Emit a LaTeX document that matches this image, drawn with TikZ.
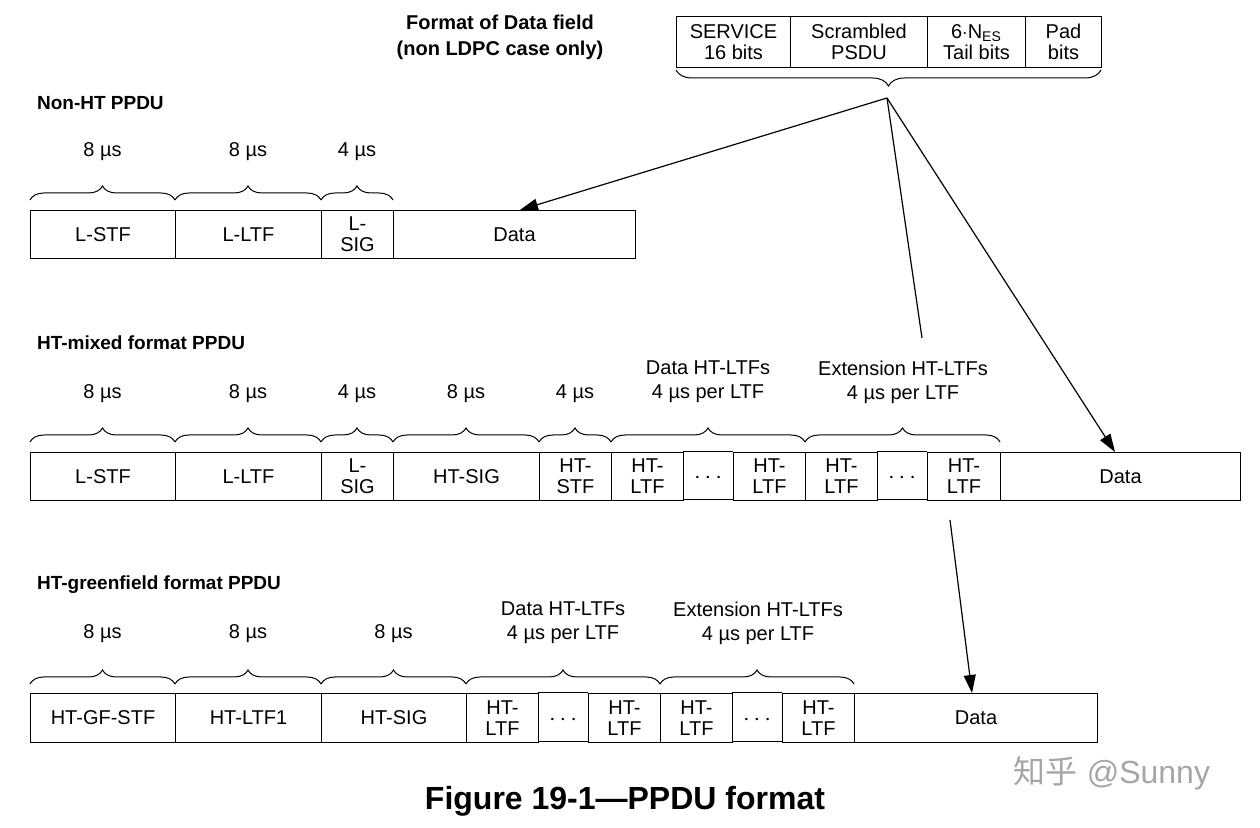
\documentclass[tikz,border=0pt]{standalone}
\usepackage{fontspec}
\setmainfont{Liberation Sans}
\newfontfamily\cjk{Noto Sans CJK SC}
\usetikzlibrary{decorations.pathreplacing,arrows.meta}
\begin{document}
\begin{tikzpicture}[x=0.5pt,y=-0.5pt,
 fld/.style={draw,line width=0.5pt,inner sep=0pt,align=center,font=\fontsize{10}{10.5}\selectfont},
 br/.style={decorate,decoration={brace,amplitude=7pt},line width=0.5pt},
 lab/.style={font=\fontsize{10}{12}\selectfont,align=center},
 dots/.style={font=\bfseries\fontsize{12}{12}\selectfont},
 ttl/.style={font=\bfseries\fontsize{9.5}{11}\selectfont,anchor=west},
 arr/.style={-{Triangle[length=9pt,width=6pt]},line width=0.6pt}]
\useasboundingbox (0,0) rectangle (1260,828);
% top data-field format
\foreach \a/\b/\t [count=\i] in {676/790/{SERVICE\\16 bits},790/927/{Scrambled\\PSDU},927/1025/{6$\cdot$N\textsubscript{ES}\\Tail bits},1025/1101/{Pad\\bits}}
 {\node[fld,minimum width=(\b-\a)*0.5pt,minimum height=25.5pt,anchor=north west] (t\i) at (\a,16) {\t};}
\node[font=\bfseries\fontsize{10}{13}\selectfont,align=center] (ftitle) at (500,37) {Format of Data field\\(non LDPC case only)};
\draw[br,decoration={mirror,amplitude=8pt}] (676,70) -- (1101,70);
\coordinate (tip) at (887,98);
% Non-HT
\node[ttl] (l1) at (30,103) {Non-HT PPDU};
\foreach \a/\b/\t [count=\i] in {30/175/L-STF,175/321/L-LTF,321/393/{L-\\SIG},393/635/Data}
 {\node[fld,minimum width=(\b-\a)*0.5pt,minimum height=24pt,anchor=north west] (a\i) at (\a,210) {\t};}
\foreach \a/\b/\t in {30/175/8 µs,175/321/8 µs,321/393/4 µs}
 {\draw[br] (\a,200) -- (\b,200); \node[lab] at ({(\a+\b)/2},152) {\t};}
% HT-mixed
\node[ttl] (l2) at (30,343) {HT-mixed format PPDU};
\foreach \a/\b/\t [count=\i] in {30/175/L-STF,175/321/L-LTF,321/393/{L-\\SIG},393/539/HT-SIG,539/611/{HT-\\STF},611/683/{HT-\\LTF},733/805/{HT-\\LTF},805/877/{HT-\\LTF},927/1000/{HT-\\LTF},1000/1240/Data}
 {\node[fld,minimum width=(\b-\a)*0.5pt,minimum height=24pt,anchor=north west] (b\i) at (\a,452) {\t};}
\draw[line width=0.5pt] (683,452) -- (733,452) (683,500) -- (733,500) (877,452) -- (927,452) (877,500) -- (927,500);
\node[dots] (bd1) at (708,478) {$\cdots$}; \node[dots] (bd2) at (902,478) {$\cdots$};
\foreach \a/\b/\t in {30/175/8 µs,175/321/8 µs,321/393/4 µs,393/539/8 µs,539/611/4 µs}
 {\draw[br] (\a,442) -- (\b,442); \node[lab] at ({(\a+\b)/2},394) {\t};}
\draw[br] (611,442) -- (805,442); \node[lab] at (708,382) {Data HT-LTFs\\4 µs per LTF};
\draw[br] (805,442) -- (1000,442); \node[lab] at (903,382) {Extension HT-LTFs\\4 µs per LTF};
% HT-GF
\node[ttl] (l3) at (30,585) {HT-greenfield format PPDU};
\foreach \a/\b/\t [count=\i] in {30/175/HT-GF-STF,175/321/HT-LTF1,321/466/HT-SIG,466/538/{HT-\\LTF},588/660/{HT-\\LTF},660/732/{HT-\\LTF},782/854/{HT-\\LTF},854/1097/Data}
 {\node[fld,minimum width=(\b-\a)*0.5pt,minimum height=24.5pt,anchor=north west] (c\i) at (\a,693) {\t};}
\draw[line width=0.5pt] (538,693) -- (588,693) (538,742) -- (588,742) (732,693) -- (782,693) (732,742) -- (782,742);
\node[dots] (cd1) at (563,720) {$\cdots$}; \node[dots] (cd2) at (757,720) {$\cdots$};
\foreach \a/\b/\t in {30/175/8 µs,175/321/8 µs,321/466/8 µs}
 {\draw[br] (\a,684) -- (\b,684); \node[lab] at ({(\a+\b)/2},634) {\t};}
\draw[br] (466,684) -- (660,684); \node[lab] at (563,623) {Data HT-LTFs\\4 µs per LTF};
\draw[br] (660,684) -- (854,684); \node[lab] at (758,623) {Extension HT-LTFs\\4 µs per LTF};
% arrows
\draw[arr] (tip) -- (a4.north -| 520,0);
\coordinate (lend) at (922,338);
\draw[line width=0.6pt] (tip) -- (lend);
\draw[arr] (tip) -- (1115,452);
\coordinate (gstart) at (950,520);
\draw[arr] (gstart) -- (972,693);
% caption + watermark
\node[font=\bfseries\fontsize{16}{18}\selectfont] (cap) at (625,801) {Figure 19-1—PPDU format};
\node[text=black!35,font=\fontsize{16}{18}\selectfont] (wm) at (1112,773) {{\cjk 知乎} @Sunny};
\end{tikzpicture}
\end{document}
